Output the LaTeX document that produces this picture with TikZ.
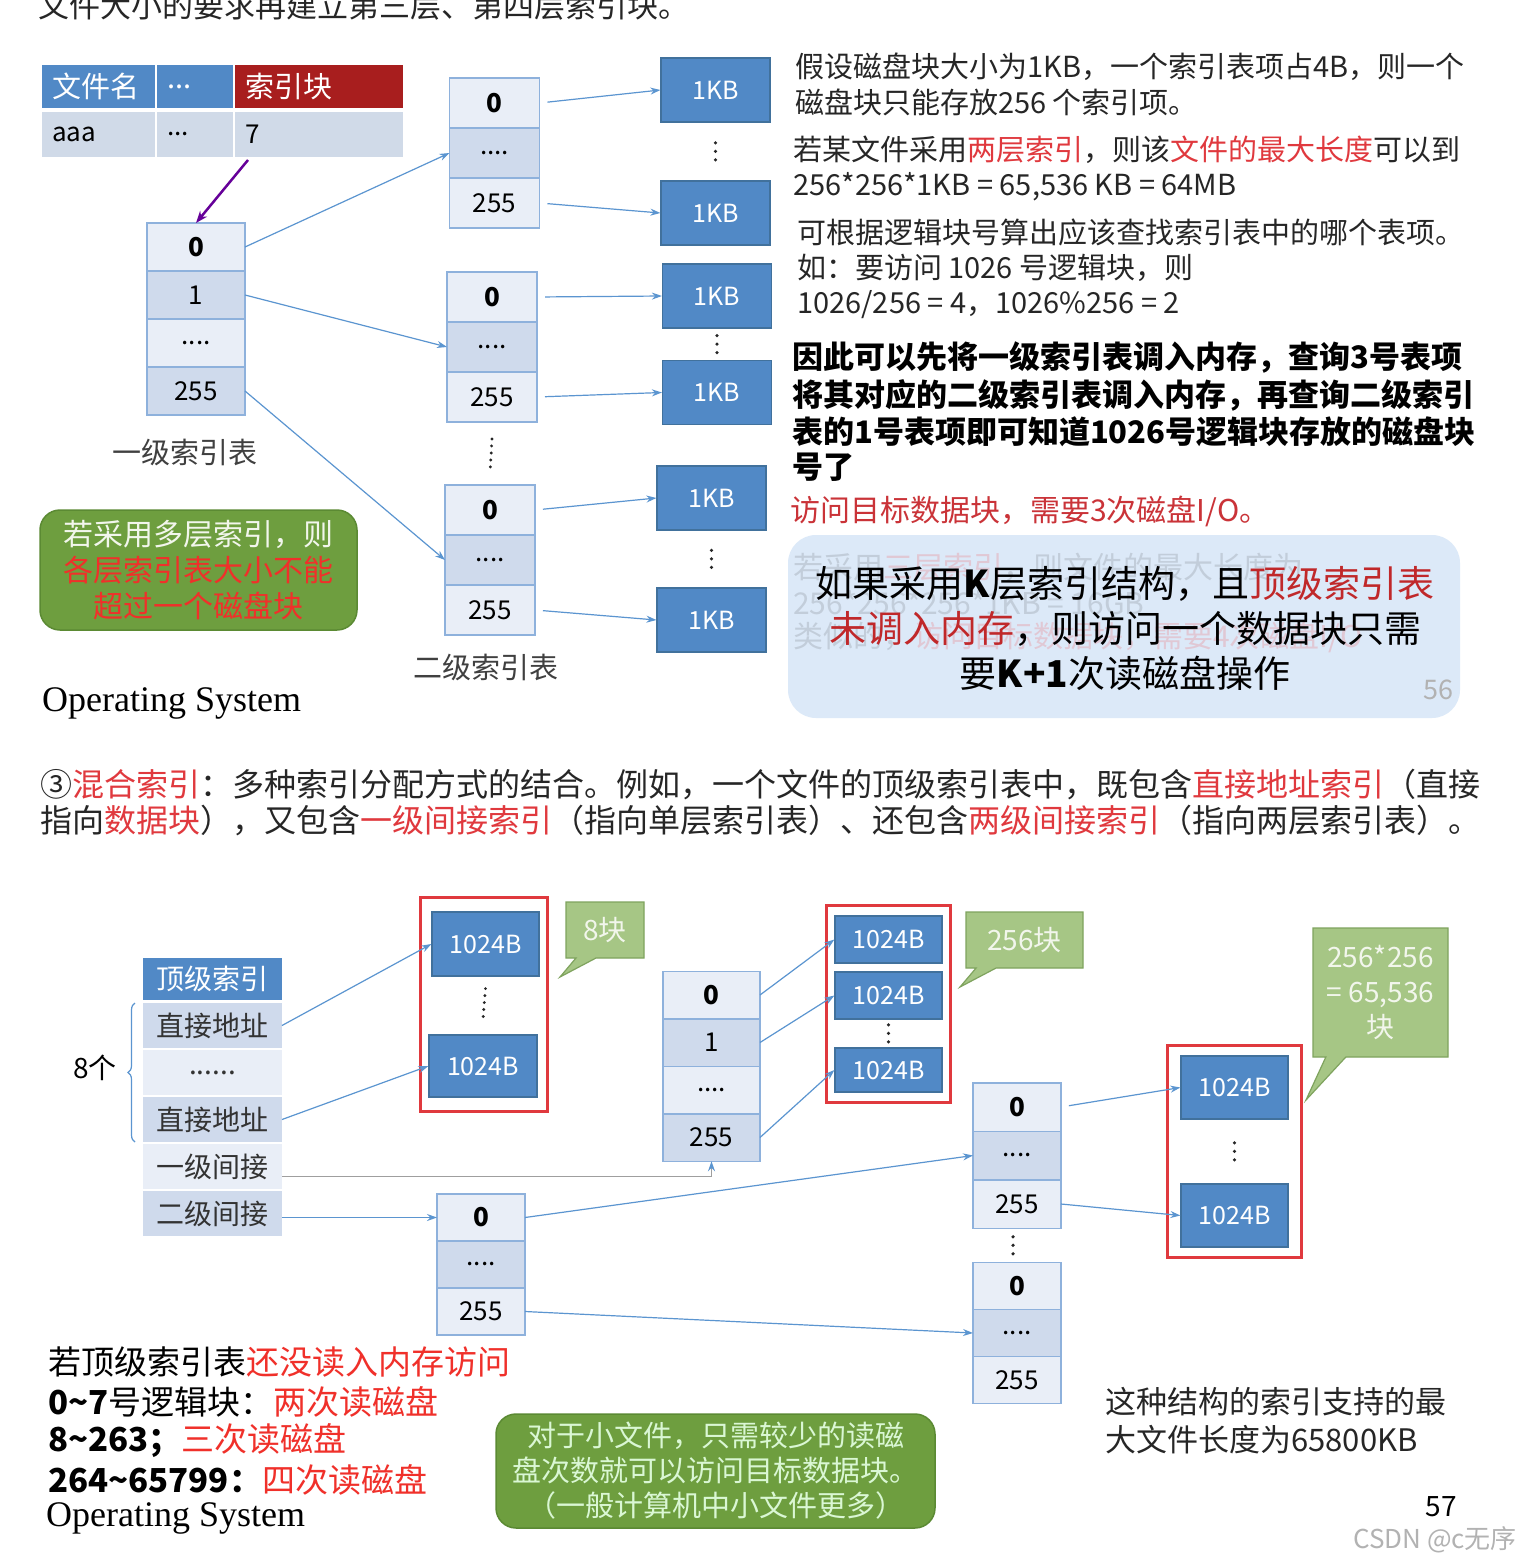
\documentclass[tikz,border=0pt]{standalone}
\usepackage{fontspec}
\setmainfont{Noto Sans CJK SC}
\newfontfamily\osfont{Liberation Serif}
\usetikzlibrary{arrows.meta, positioning, fit, calc, decorations.pathreplacing, shapes.callouts}
\definecolor{BlockBlue}{HTML}{5189C6}
\definecolor{BlockEdge}{HTML}{41719C}
\definecolor{CellLight}{HTML}{E9EEF7}
\definecolor{CellDark}{HTML}{CFDAEC}
\definecolor{CellEdge}{HTML}{8EB1DC}
\definecolor{RowGray}{HTML}{D0DAE8}
\definecolor{HeadRed}{HTML}{A81E1E}
\definecolor{LinkBlue}{HTML}{5B95D0}
\definecolor{NoteGreen}{HTML}{6E9E3F}
\definecolor{NoteEdge}{HTML}{5B8A33}
\definecolor{TipGreen}{HTML}{A6C685}
\definecolor{TipEdge}{HTML}{7FA35E}
\definecolor{TipText}{HTML}{F2F6EC}
\definecolor{MarkRed}{HTML}{E0393E}
\definecolor{DeepRed}{HTML}{C0282A}
\definecolor{BrightRed}{HTML}{F0302A}
\definecolor{PanelBlue}{HTML}{DCE9F8}
\newcommand{\pxsize}[1]{\fontsize{#1}{#1}\selectfont}
\newcommand{\redtxt}[1]{\textcolor{MarkRed}{#1}}

\begin{document}
\begin{tikzpicture}[x=1pt, y=-1pt,
  hd/.style={minimum height=43pt, inner xsep=10pt, inner ysep=0pt, outer sep=0pt, align=left, text=white, font=\pxsize{29}},
  rw/.style={minimum height=45pt, inner xsep=10pt, inner ysep=0pt, outer sep=0pt, align=left, fill=RowGray, font=\pxsize{26}},
  cell/.style={draw=CellEdge, line width=1.5pt, fill=CellLight, minimum width=90pt, minimum height=50pt, inner sep=0pt, outer sep=0pt, font=\pxsize{26}},
  celldk/.style={cell, fill=CellDark},
  kb/.style={draw=BlockEdge, line width=1.2pt, fill=BlockBlue, text=white, minimum width=109pt, minimum height=64pt, inner sep=0pt, font=\pxsize{25}},
  lvl/.style={fill=CellDark, minimum width=139pt, minimum height=45pt, inner sep=0pt, outer sep=0pt, text=black!80, font=\pxsize{28}},
  lvllt/.style={lvl, fill=CellLight},
  link/.style={draw=LinkBlue, line width=1.2pt, -{Stealth[length=10pt, width=7pt]}},
  dotline/.style={draw=black!85, line width=3.2pt, line cap=round, dash pattern=on 0pt off 7pt},
  dots3/.style={draw=black!85, line width=3.6pt, line cap=round, dash pattern=on 0pt off 8.5pt},
  note/.style={draw=NoteEdge, line width=1.5pt, fill=NoteGreen, rounded corners=20pt, align=center, inner sep=0pt},
  tip/.style={rectangle callout, draw=TipEdge, line width=1.2pt, fill=TipGreen, text=TipText, align=center, inner sep=0pt, callout pointer width=20pt, font=\pxsize{28}},
  wall/.style={draw=MarkRed, line width=3pt, inner sep=0pt},
  txt/.style={anchor=west, inner sep=0pt, font=\pxsize{29}, text=black!85}
]
\useasboundingbox (0,0) rectangle (1530,1568);
\fill[white] (0,0) rectangle (1530,1568);

% ---------- upper slide: two-level index ----------
\node[txt, font=\pxsize{31}] (topline) at (38,6) {文件大小的要求再建立第三层、第四层索引块。};

% directory entry
\node[hd, fill=BlockBlue, text width=93pt] (hname) at (98.5,86.5) {文件名};
\node[hd, fill=BlockBlue, text width=56pt, right=2pt of hname] (hdots) {...};
\node[hd, fill=HeadRed, text width=148pt, right=2pt of hdots] (hidx) {索引块};
\node[rw, text width=93pt, below=4pt of hname] (rname) {aaa};
\node[rw, text width=56pt, right=2pt of rname] (rdots) {...};
\node[rw, text width=148pt, right=2pt of rdots] (ridx) {7};

% first level table
\node[cell, minimum width=98pt, minimum height=48pt] (lv1a) at (196,247) {\bfseries 0};
\node[celldk, minimum width=98pt, minimum height=48pt, below=0pt of lv1a] (lv1b) {1};
\node[cell, minimum width=98pt, minimum height=48pt, below=0pt of lv1b] (lv1c) {....};
\node[celldk, minimum width=98pt, minimum height=48pt, below=0pt of lv1c] (lv1d) {255};
\node[txt, anchor=center, text=black!75] (lv1name) at (185,452) {一级索引表};

% second level tables
\node[cell] (s1a) at (494.5,103) {\bfseries 0};
\node[celldk, below=0pt of s1a] (s1b) {....};
\node[cell, below=0pt of s1b] (s1c) {255};
\node[cell] (s2a) at (492,297) {\bfseries 0};
\node[celldk, below=0pt of s2a] (s2b) {....};
\node[cell, below=0pt of s2b] (s2c) {255};
\node[cell] (s3a) at (490,510) {\bfseries 0};
\node[celldk, below=0pt of s3a] (s3b) {....};
\node[cell, below=0pt of s3b] (s3c) {255};
\draw[dotline] ([yshift=-17pt]s2c.south) -- ([yshift=12pt]s3a.north);
\node[txt, anchor=center, text=black!75] (lv2name) at (486,667) {二级索引表};

% data blocks
\node[kb] (kb1) at (715.5,90) {1KB};
\node[kb] (kb2) at (715.5,213) {1KB};
\node[kb] (kb3) at (717,296) {1KB};
\node[kb] (kb4) at (717,392.5) {1KB};
\node[kb] (kb5) at (711.5,498) {1KB};
\node[kb] (kb6) at (711.5,620) {1KB};
\draw[dots3] ($(kb1.south)!.5!(kb2.north)$) +(0,-8.6) -- +(0,8.6);
\draw[dots3] ($(kb3.south)!.5!(kb4.north)$) +(0,-8.6) -- +(0,8.6);
\draw[dots3] ($(kb5.south)!.5!(kb6.north)$) +(0,-8.6) -- +(0,8.6);

\draw[-{Stealth[length=12pt, width=9pt]}, line width=2.5pt, draw=violet!80!blue] ([xshift=13pt, yshift=-3pt]ridx.south west) -- (lv1a.north);
\draw[link] (lv1a.east) -- (s1b.west);
\draw[link] (lv1b.east) -- (s2b.west);
\draw[link] (lv1d.east) -- (s3b.west);
\draw[link, shorten <=8pt] (s1a.east) -- (kb1.west);
\draw[link, shorten <=8pt] (s1c.east) -- (kb2.west);
\draw[link, shorten <=8pt] (s2a.east) -- (kb3.west);
\draw[link, shorten <=8pt] (s2c.east) -- (kb4.west);
\draw[link, shorten <=8pt] (s3a.east) -- (kb5.west);
\draw[link, shorten <=8pt] (s3c.east) -- (kb6.west);

\node[note, minimum width=317pt, minimum height=120pt, font=\fontsize{30}{36}\selectfont] (multi) at (198.5,570)
  {\textcolor{TipText}{若采用多层索引，则}\\ \textcolor{BrightRed}{各层索引表大小不能}\\ \textcolor{BrightRed}{超过一个磁盘块}};
\node[txt, font=\osfont\pxsize{36}, text=black] (os1) at (42,703) {Operating System};

% right side notes
\node[txt] (r1) at (795,67) {假设磁盘块大小为1KB，一个索引表项占4B，则一个};
\node[txt] (r2) at (795,102) {磁盘块只能存放256 个索引项。};
\node[txt] (r3) at (793,150) {若某文件采用\redtxt{两层索引}，则该\redtxt{文件的最大长度}可以到};
\node[txt] (r4) at (793,187) {256*256*1KB = 65,536 KB = 64MB};
\node[txt] (r5) at (797,232) {可根据逻辑块号算出应该查找索引表中的哪个表项。};
\node[txt] (r6) at (797,268) {如：要访问 1026 号逻辑块，则};
\node[txt] (r7) at (797,305) {1026/256 = 4，1026\%256 = 2};
\node[txt, font=\pxsize{31}\bfseries, text=black] (b1) at (792,357) {因此可以先将一级索引表调入内存，查询3号表项};
\node[txt, font=\pxsize{31}\bfseries, text=black] (b2) at (792,395) {将其对应的二级索引表调入内存，再查询二级索引};
\node[txt, font=\pxsize{31}\bfseries, text=black] (b3) at (792,432) {表的1号表项即可知道1026号逻辑块存放的磁盘块};
\node[txt, font=\pxsize{31}\bfseries, text=black] (b4) at (792,467) {号了};
\node[txt, font=\pxsize{30}, text=MarkRed!90!black] (io3) at (790,511) {访问目标数据块，需要3次磁盘I/O。};

\fill[PanelBlue, rounded corners=28pt] (788,535) rectangle (1460,718);
\node[txt, font=\pxsize{30}, text opacity=0.14] (g1) at (793,567) {若采用\textcolor{red}{三层索引}，则文件的最大长度为};
\node[txt, font=\pxsize{30}, text opacity=0.14] (g2) at (793,603) {256*256*256*1KB = 16GB};
\node[txt, font=\pxsize{30}, text opacity=0.14] (g3) at (793,637) {类似的，\textcolor{red}{访问目标数据块，需要4次磁盘I/O}};
\node[align=center, inner sep=0pt, font=\fontsize{37}{45}\selectfont] (kway) at (1125,629)
  {如果采用\textbf{K}层索引结构，且\textcolor{DeepRed}{顶级索引表}\\
   \textcolor{DeepRed}{未调入内存}，则访问一个数据块只需\\
   要\textbf{K+1}次读磁盘操作};
\node[inner sep=0pt, font=\pxsize{27}, text=black!30] (p56) at (1438,690) {56};

% ---------- middle paragraph ----------
\node[txt, font=\pxsize{32}] (mix1) at (40,785) {③\redtxt{混合索引}：多种索引分配方式的结合。例如，一个文件的顶级索引表中，既包含\redtxt{直接地址索引}（直接};
\node[txt, font=\pxsize{32}] (mix2) at (40,821) {指向\redtxt{数据块}），又包含\redtxt{一级间接索引}（指向单层索引表）、还包含\redtxt{两级间接索引}（指向两层索引表）。};

% ---------- lower slide: mixed index ----------
\node[lvl, fill=BlockBlue, text=white, minimum height=42pt] (topH) at (212.5,979) {顶级索引};
\node[lvl, below=3pt of topH] (dirA) {直接地址};
\node[lvllt, below=2pt of dirA] (dirDots) {......};
\node[lvl, below=2pt of dirDots] (dirB) {直接地址};
\node[lvllt, below=2pt of dirB] (ind1) {一级间接};
\node[lvl, below=2pt of ind1] (ind2) {二级间接};
\draw[LinkBlue, line width=1.2pt, decorate, decoration={brace, amplitude=7pt}] ([xshift=-8pt]dirB.south west) -- ([xshift=-8pt]dirA.north west);
\node[inner sep=0pt, font=\pxsize{28}] (eight) at (95,1068) {8个};

% direct blocks
\node[kb, minimum width=107pt] (d8a) at (485.5,944) {1024B};
\node[kb, minimum width=108pt, minimum height=62pt] (d8b) at (483,1066) {1024B};
\draw[dotline] ([yshift=-12pt]d8a.south) -- ([yshift=16pt]d8b.north);
\node[wall, fit={(d8a) (d8b)}, inner xsep=8pt, inner ysep=14pt] (box8) {};
\node[tip, minimum width=78pt, minimum height=56pt, callout absolute pointer={(560,977)}] (tip8) at (605,930) {8块};

% single indirect
\node[cell, minimum width=97pt, minimum height=47.5pt] (m0) at (711.5,995) {\bfseries 0};
\node[celldk, minimum width=97pt, minimum height=47.5pt, below=0pt of m0] (m1) {1};
\node[cell, minimum width=97pt, minimum height=47.5pt, below=0pt of m1] (mdots) {....};
\node[celldk, minimum width=97pt, minimum height=47.5pt, below=0pt of mdots] (m255) {255};
\node[kb, minimum width=107pt, minimum height=47pt] (e1) at (888.5,939.5) {1024B};
\node[kb, minimum width=107pt, minimum height=47pt] (e2) at (888.5,995.5) {1024B};
\node[kb, minimum width=107pt, minimum height=44pt] (e3) at (888.5,1070) {1024B};
\draw[dots3] ($(e2.south)!.5!(e3.north)$) +(0,-8.6) -- +(0,8.6);
\node[wall, fit={(e1) (e3)}, inner xsep=8pt, inner ysep=10pt] (box256) {};
\node[tip, minimum width=117pt, minimum height=56pt, callout absolute pointer={(960,987)}] (tip256) at (1024.5,940) {256块};

% double indirect
\node[cell, minimum width=88pt, minimum height=47pt] (w0) at (481,1217.5) {\bfseries 0};
\node[celldk, minimum width=88pt, minimum height=47pt, below=0pt of w0] (wdots) {....};
\node[cell, minimum width=88pt, minimum height=47pt, below=0pt of wdots] (w255) {255};
\node[cell, minimum width=88pt, minimum height=48.5pt] (pa0) at (1017,1107) {\bfseries 0};
\node[celldk, minimum width=88pt, minimum height=48.5pt, below=0pt of pa0] (padots) {....};
\node[cell, minimum width=88pt, minimum height=48.5pt, below=0pt of padots] (pa255) {255};
\node[cell, minimum width=88pt, minimum height=47pt] (pb0) at (1017,1286) {\bfseries 0};
\node[celldk, minimum width=88pt, minimum height=47pt, below=0pt of pb0] (pbdots) {....};
\node[cell, minimum width=88pt, minimum height=47pt, below=0pt of pbdots] (pb255) {255};
\draw[dots3] ($(pa255.south)!.5!(pb0.north)+(-4,0)$) +(0,-8.6) -- +(0,8.6);
\node[kb, minimum width=107pt, minimum height=63pt] (f1) at (1234.5,1087.5) {1024B};
\node[kb, minimum width=107pt, minimum height=63pt] (f2) at (1234.5,1215.5) {1024B};
\draw[dots3] ($(f1.south)!.5!(f2.north)$) +(0,-8.6) -- +(0,8.6);
\node[wall, fit={(f1) (f2)}, inner xsep=13pt, inner ysep=10pt] (boxAll) {};
\node[tip, minimum width=135pt, minimum height=129pt, font=\fontsize{28}{35}\selectfont, callout absolute pointer={(1306,1100)}] (tipAll) at (1380.5,992.5) {256*256\\= 65,536\\块};

% links of the lower slide
\draw[link] (dirA.east) -- (d8a.west);
\draw[link] (dirB.east) -- (d8b.west);
\draw[draw=gray!75, line width=1.5pt, -{Stealth[length=10pt, width=7pt, color=LinkBlue]}] ([yshift=-10pt]ind1.east) -| (m255.south);
\draw[link] (m0.east) -- (e1.west);
\draw[link] (m1.east) -- (e2.west);
\draw[link] (m255.east) -- (e3.west);
\draw[link] (ind2.east |- w0.west) -- (w0.west);
\draw[link] (w0.east) -- (padots.west);
\draw[link] (w255.east) -- (pbdots.west);
\draw[link, shorten <=8pt] (pa0.east) -- (f1.west);
\draw[link] (pa255.east) -- (f2.west);

% lower texts
\node[txt, font=\pxsize{33}, text=black] (cold1) at (48,1362) {若顶级索引表\textcolor{BrightRed}{还没读入内存访问}};
\node[txt, font=\pxsize{33}, text=black] (cold2) at (48,1402) {\textbf{0\textasciitilde 7}号逻辑块：\textcolor{BrightRed}{两次读磁盘}};
\node[txt, font=\pxsize{33}, text=black] (cold3) at (48,1441) {\textbf{8\textasciitilde 263；}\textcolor{BrightRed}{三次读磁盘}};
\node[txt, font=\pxsize{33}, text=black] (cold4) at (48,1480) {\textbf{264\textasciitilde 65799：}\textcolor{BrightRed}{四次读磁盘}};
\node[txt, font=\osfont\pxsize{36}, text=black] (os2) at (46,1518) {Operating System};
\node[note, minimum width=439pt, minimum height=114pt, text=TipText!90!green, font=\fontsize{29}{35}\selectfont] (small) at (715.5,1471)
  {对于小文件，只需较少的读磁\\盘次数就可以访问目标数据块。\\（一般计算机中小文件更多）};
\node[txt, font=\pxsize{31}] (maxlen1) at (1105,1402) {这种结构的索引支持的最};
\node[txt, font=\pxsize{31}] (maxlen2) at (1105,1440) {大文件长度为65800KB};
\node[inner sep=0pt, font=\pxsize{28}] (p57) at (1441,1507) {57};
\node[inner sep=0pt, font=\pxsize{26}, text=black!30] (mark) at (1435,1540) {CSDN @c无序};
\end{tikzpicture}
\end{document}
